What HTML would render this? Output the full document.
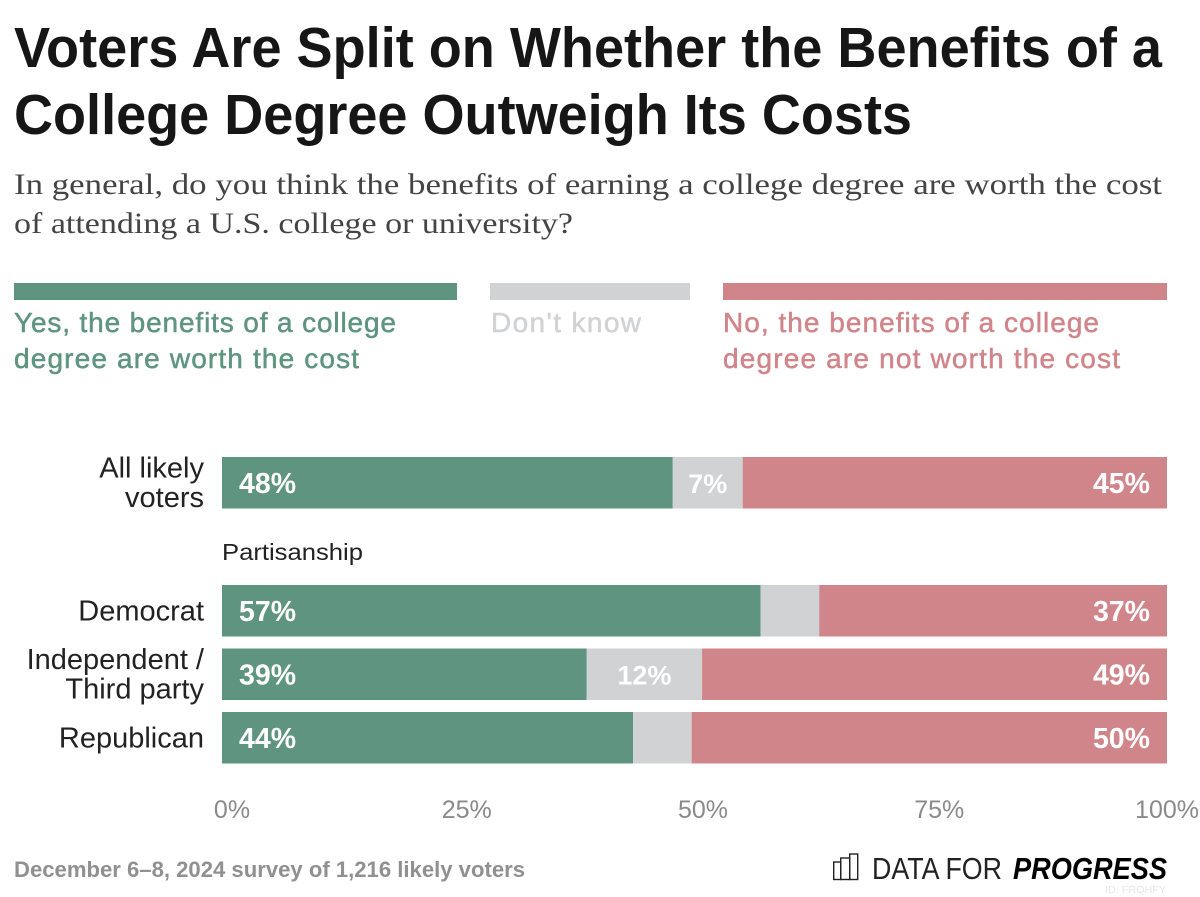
<!DOCTYPE html>
<html lang="en">
<head>
<meta charset="utf-8">
<title>Voters Are Split on Whether the Benefits of a College Degree Outweigh Its Costs</title>
<style>
html,body{margin:0;padding:0;background:#fff;width:1200px;height:897px;overflow:hidden}
svg{display:block}
text{font-family:"Liberation Sans",sans-serif}
.serif{font-family:"Liberation Serif",serif}
</style>
</head>
<body>
<svg id="chart" width="1200" height="897" viewBox="0 0 1200 897" xmlns="http://www.w3.org/2000/svg">
  <rect width="1200" height="897" fill="#fff"/>
  <g font-size="57" font-weight="700" fill="#161616">
    <text x="14" y="67" textLength="1148" lengthAdjust="spacingAndGlyphs">Voters Are Split on Whether the Benefits of a</text>
    <text x="14" y="134" textLength="898" lengthAdjust="spacingAndGlyphs">College Degree Outweigh Its Costs</text>
  </g>
  <g font-size="30" fill="#444">
    <text class="serif" x="14" y="194" textLength="1148" lengthAdjust="spacingAndGlyphs">In general, do you think the benefits of earning a college degree are worth the cost</text>
    <text class="serif" x="14" y="233" textLength="559" lengthAdjust="spacingAndGlyphs">of attending a U.S. college or university?</text>
  </g>
  <g font-size="28" font-weight="400">
    <g fill="#5e9480" stroke="#5e9480" stroke-width="0.5">
      <rect x="14" y="283" width="443" height="17" stroke="none"/>
      <text x="14" y="332" textLength="382" lengthAdjust="spacing">Yes, the benefits of a college</text>
      <text x="14" y="368" textLength="345" lengthAdjust="spacing">degree are worth the cost</text>
    </g>
    <g fill="#d1d2d4" stroke="#d1d2d4" stroke-width="0.5">
      <rect x="490" y="283" width="200" height="17" stroke="none"/>
      <text x="491" y="332" textLength="150" lengthAdjust="spacing">Don't know</text>
    </g>
    <g fill="#d0858a" stroke="#d0858a" stroke-width="0.5">
      <rect x="723" y="283" width="444" height="17" stroke="none"/>
      <text x="723" y="332" textLength="376" lengthAdjust="spacing">No, the benefits of a college</text>
      <text x="723" y="368" textLength="397" lengthAdjust="spacing">degree are not worth the cost</text>
    </g>
  </g>
  <text x="222" y="560" font-size="23" fill="#222" textLength="141" lengthAdjust="spacingAndGlyphs">Partisanship</text>
  <g id="bars"></g>
  <g id="axis"></g>
  <text x="14" y="877" font-size="22" font-weight="700" fill="#909090" textLength="511" lengthAdjust="spacingAndGlyphs">December 6–8, 2024 survey of 1,216 likely voters</text>
  <g>
    <g fill="none" stroke="#222" stroke-width="1.4">
      <rect x="833.7" y="862" width="7" height="17.5"/>
      <rect x="840.7" y="858" width="9" height="21.5"/>
      <rect x="849.7" y="854" width="8" height="25.5"/>
    </g>
    <text x="872" y="879" font-size="31" fill="#222" textLength="130" lengthAdjust="spacingAndGlyphs">DATA FOR</text>
    <text x="1013" y="879" font-size="31" font-weight="700" font-style="italic" fill="#000" textLength="154" lengthAdjust="spacingAndGlyphs">PROGRESS</text>
  </g>
  <text x="1105" y="893" font-size="10" fill="#e6e6e6" textLength="61" lengthAdjust="spacingAndGlyphs">ID: FRQHFY</text>
</svg>
<script>
const categories = ["All likely voters", "Democrat", "Independent / Third party", "Republican"];
const yesValues = [47.7, 57.0, 38.6, 43.5];
const dontKnowValues = [7.4, 6.2, 12.2, 6.2];
const noValues = [44.9, 36.8, 49.2, 50.3];
const yesLabels = ["48%", "57%", "39%", "44%"];
const dontKnowLabels = ["7%", "", "12%", ""];
const noLabels = ["45%", "37%", "49%", "50%"];
const tickValues = [0, 25, 50, 75, 100];
const tickLabels = ["0%", "25%", "50%", "75%", "100%"];

const NS = "http://www.w3.org/2000/svg";
const plotLeft = 222, plotRight = 1167;
const rowTops = [457, 585, 648.5, 712];
const barHeight = 51.5;
const categoryLines = [["All likely", "voters"], ["Democrat"], ["Independent /", "Third party"], ["Republican"]];
const GREEN = "#5e9480", GRAY = "#d1d2d4", RED = "#d0858a";

function x(v) { return plotLeft + (plotRight - plotLeft) * v / 100; }

function makeText(content, px, py, size, fill, anchor, bold) {
  const t = document.createElementNS(NS, "text");
  t.textContent = content;
  t.setAttribute("x", px);
  t.setAttribute("y", py);
  t.setAttribute("font-size", size);
  t.setAttribute("fill", fill);
  t.setAttribute("text-anchor", anchor);
  if (bold) t.setAttribute("font-weight", "700");
  return t;
}

function makeRect(x0, x1, y, h, fill) {
  const r = document.createElementNS(NS, "rect");
  r.setAttribute("x", x0);
  r.setAttribute("y", y);
  r.setAttribute("width", x1 - x0);
  r.setAttribute("height", h);
  r.setAttribute("fill", fill);
  return r;
}

const barsGroup = document.getElementById("bars");
categories.forEach(function (cat, i) {
  const top = rowTops[i];
  const mid = top + barHeight / 2;
  const row = document.createElementNS(NS, "g");
  
  

  const lines = categoryLines[i];
  lines.forEach(function (line, k) {
    const baseline = mid + 9.5 + (k - (lines.length - 1) / 2) * 29.5;
    const lab = makeText(line, 204, baseline, 29, "#222", "end", false);
    
    
    row.appendChild(lab);
  });

  const a = yesValues[i], b = a + dontKnowValues[i], c = b + noValues[i];

  const yesBar = makeRect(x(0), x(a), top, barHeight, GREEN);
  
  
  row.appendChild(yesBar);

  const dkBar = makeRect(x(a), x(b), top, barHeight, GRAY);
  
  
  row.appendChild(dkBar);

  const noBar = makeRect(x(b), x(c), top, barHeight, RED);
  
  
  row.appendChild(noBar);

  const yesText = makeText(yesLabels[i], x(0) + 17, mid + 10, 28.5, "#fff", "start", true);
  
  
  row.appendChild(yesText);

  if (dontKnowLabels[i]) {
    const dkText = makeText(dontKnowLabels[i], (x(a) + x(b)) / 2, mid + 10, 27, "#fff", "middle", true);
    
    
    row.appendChild(dkText);
  }

  const noText = makeText(noLabels[i], x(c) - 17, mid + 10, 28.5, "#fff", "end", true);
  
  
  row.appendChild(noText);

  barsGroup.appendChild(row);
});

const axisGroup = document.getElementById("axis");
tickValues.forEach(function (v, i) {
  const last = i === tickValues.length - 1;
  const first = i === 0;
  const tick = makeText(tickLabels[i], last ? x(v) + 32 : x(v) + (first ? 10 : 8.5), 818, 25, "#8a8a8a", last ? "end" : "middle", false);
  
  
  axisGroup.appendChild(tick);
});
</script>
</body>
</html>
